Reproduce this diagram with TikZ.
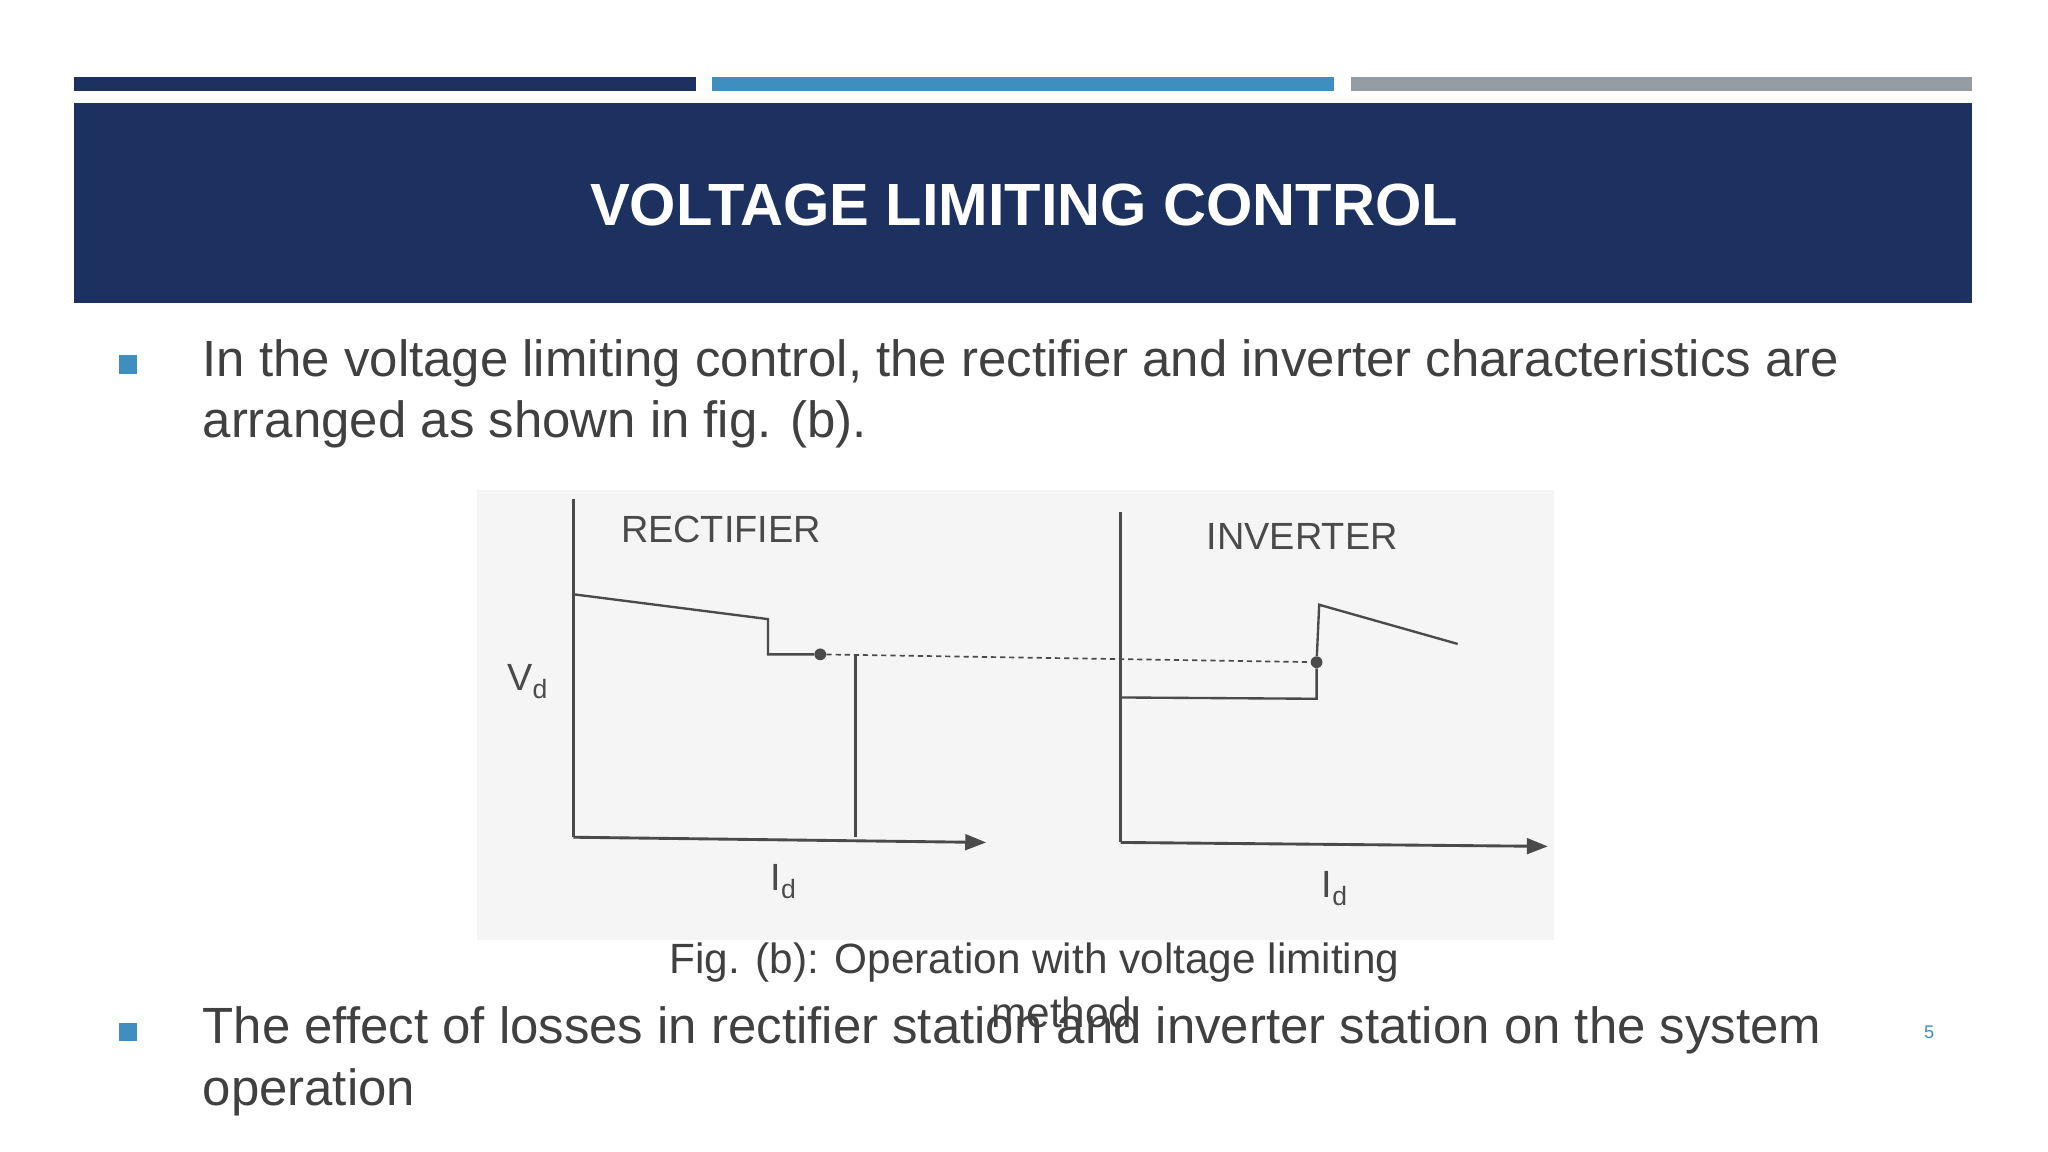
\documentclass[tikz,border=0pt]{standalone}
\usepackage{fontspec}
\setmainfont{Liberation Sans}
\usetikzlibrary{arrows.meta}
\definecolor{navy}{HTML}{1C3160}
\definecolor{sblue}{HTML}{3E8EBF}
\definecolor{sgray}{HTML}{959DA2}
\definecolor{txt}{HTML}{404040}
\definecolor{ink}{HTML}{4A4A4A}
\tikzset{
 body/.style={anchor=west,inner sep=0,text=txt,font=\fontsize{39}{42}\selectfont},
 bul/.style={fill=sblue,minimum size=14pt,inner sep=0},
 ax/.style={ink,line width=2.2pt},
 crv/.style={ink,line width=1.8pt},
 lab/.style={text=ink,font=\fontsize{29}{32}\selectfont,inner sep=0},
 dot/.style={circle,fill=ink,inner sep=0,minimum size=9pt}
}
\begin{document}
\begin{tikzpicture}[x=1pt,y=-1pt]
\useasboundingbox (0,0) rectangle (1568,882);
\fill[white] (0,0) rectangle (1568,882);
\fill[navy] (57,59) rectangle (533,70);
\fill[sblue] (545,59) rectangle (1021,70);
\fill[sgray] (1034,59) rectangle (1510,70);
\fill[navy] (57,79) rectangle (1510,232);
\node[text=white,font=\bfseries\fontsize{45.6}{50}\selectfont] (title) at (784,157) {VOLTAGE LIMITING CONTROL};
\node[bul] (b1) at (98,279) {};
\node[body] (t1) at (155,278) {In the voltage limiting control, the rectifier and inverter characteristics are};
\node[body] (t2) at (155,325) {arranged as shown in fig. (b).};
% chart
\fill[black!4] (365,375) rectangle (1190,720);
\coordinate (ra0) at (439,382); \coordinate (ro) at (439,641); \coordinate (rx) at (755,645);
\draw[ax] (ra0) -- (ro);
\draw[ax,-{Triangle[length=16pt,width=12pt]}] (ro) -- (rx);
\node[dot] (d1) at (628,501) {};
\node[dot] (d2) at (1008,507) {};
\coordinate (r1) at (439,455); \coordinate (r2) at (588,474); \coordinate (r3) at (588,501);
\draw[crv] (r1) -- (r2) -- (r3) -- (d1);
\coordinate (rv1) at (655,501); \coordinate (rv2) at (655,641);
\draw[crv] (rv1) -- (rv2);
\draw[crv,dash pattern=on 4pt off 3pt,line width=1.3pt] (d1) -- (d2);
\coordinate (ia0) at (858,392); \coordinate (io) at (858,645); \coordinate (ix) at (1185,648);
\draw[ax] (ia0) -- (io);
\draw[ax,-{Triangle[length=16pt,width=12pt]}] (io) -- (ix);
\coordinate (i1) at (858,534); \coordinate (i2) at (1008,535);
\coordinate (i3) at (1010,463); \coordinate (i4) at (1116,493);
\draw[crv] (i1) -- (i2) -- (d2) -- (i3) -- (i4);
\node[lab] (rl) at (552,405) {RECTIFIER};
\node[lab] (il) at (997,411) {INVERTER};
\node[lab] (vd) at (404,522) {V\textsubscript{d}};
\node[lab] (id1) at (600,675) {I\textsubscript{d}};
\node[lab] (id2) at (1022,680) {I\textsubscript{d}};
\node[text=txt,font=\fontsize{32.4}{34}\selectfont] (cap1) at (792,737) {Fig. (b): Operation with voltage limiting};
\node[text=txt,font=\fontsize{32.4}{34}\selectfont] (cap2) at (813,775) {method};
\node[bul] (b2) at (98,790) {};
\node[body] (t3) at (155,789) {The effect of losses in rectifier station and inverter station on the system};
\node[body] (t4) at (155,836) {operation};
\node[text=sblue,font=\fontsize{14}{16}\selectfont] (pg) at (1477,790) {5};
\end{tikzpicture}
\end{document}
